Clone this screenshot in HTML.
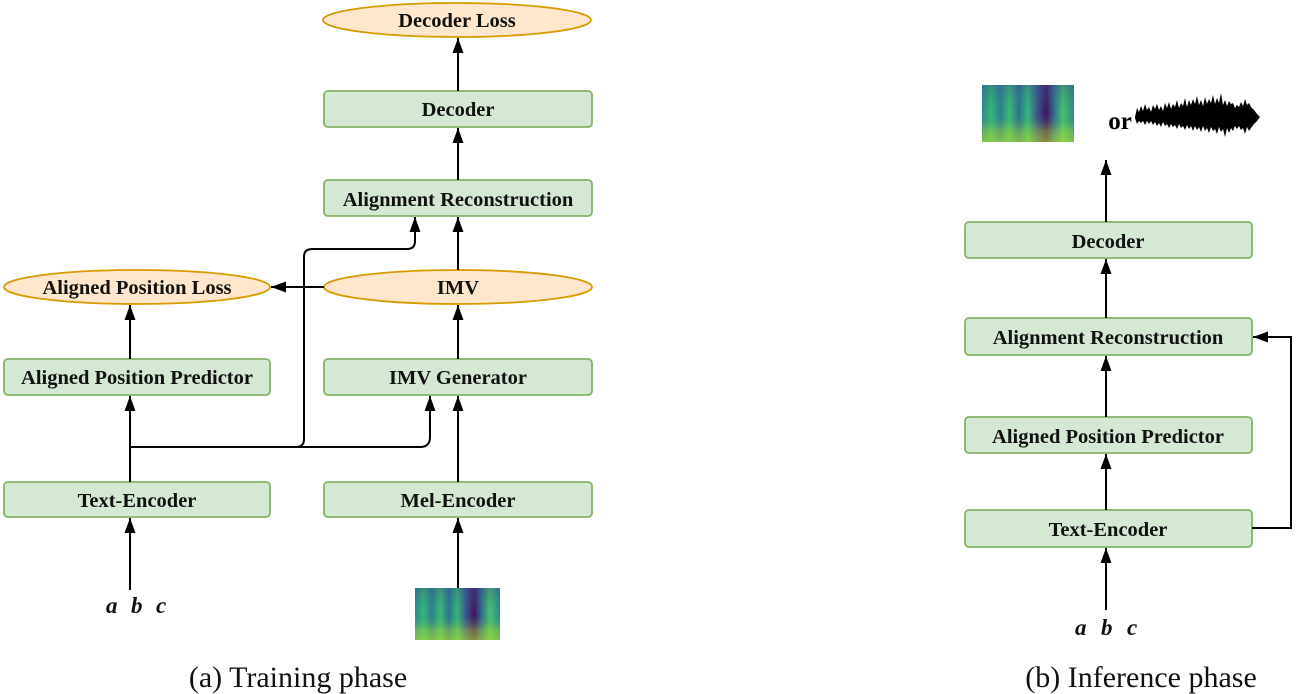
<!DOCTYPE html>
<html><head><meta charset="utf-8"><style>
html,body{margin:0;padding:0;background:#fff;}
svg{display:block;}
.b{fill:#d5e8d4;stroke:#82b366;stroke-width:1.8;}
.e{fill:#ffe6cc;stroke:#d79b00;stroke-width:1.8;}
.t{font-family:"Liberation Serif",serif;font-weight:bold;font-size:20.5px;fill:#111;text-anchor:middle;}
.l{stroke:#000;stroke-width:2;fill:none;}
.cap{font-family:"Liberation Serif",serif;font-size:30px;fill:#111;text-anchor:middle;}
.abc{font-family:"Liberation Serif",serif;font-weight:bold;font-style:italic;font-size:23px;fill:#111;}
</style></head><body>
<svg width="1311" height="694" viewBox="0 0 1311 694" xmlns="http://www.w3.org/2000/svg">
<defs>
<marker id="ar" viewBox="0 0 10 10" refX="10" refY="5" markerWidth="15" markerHeight="11" orient="auto" markerUnits="userSpaceOnUse" preserveAspectRatio="none">
<path d="M0,0 L10,5 L0,10 z" fill="#000"/></marker>
<linearGradient id="spec" x1="0" x2="1" y1="0" y2="0">
<stop offset="0" stop-color="#2a8a8a"/><stop offset="0.1" stop-color="#35b779"/><stop offset="0.2" stop-color="#2d7f8e"/>
<stop offset="0.3" stop-color="#3dbc74"/><stop offset="0.4" stop-color="#2c728e"/><stop offset="0.5" stop-color="#38b977"/>
<stop offset="0.6" stop-color="#3b528b"/><stop offset="0.7" stop-color="#440e60"/><stop offset="0.78" stop-color="#31688e"/>
<stop offset="0.88" stop-color="#4ac16d"/><stop offset="1" stop-color="#2a8a8a"/></linearGradient>
<linearGradient id="specv" x1="0" x2="0" y1="0" y2="1">
<stop offset="0" stop-color="#3b528b" stop-opacity="0.4"/><stop offset="0.5" stop-color="#21918c" stop-opacity="0"/>
<stop offset="0.8" stop-color="#b5de2b" stop-opacity="0.4"/><stop offset="1" stop-color="#b5de2b" stop-opacity="0.6"/></linearGradient>
</defs>

<!-- LEFT -->
<ellipse class="e" cx="457" cy="20" rx="134" ry="17"/><text class="t" x="457" y="27">Decoder Loss</text>
<rect class="b" x="324" y="91" width="268" height="36" rx="4"/><text class="t" x="458" y="116">Decoder</text>
<rect class="b" x="324" y="180" width="268" height="36" rx="4"/><text class="t" x="458" y="206">Alignment Reconstruction</text>
<ellipse class="e" cx="458" cy="287" rx="134" ry="17"/><text class="t" x="458" y="294">IMV</text>
<ellipse class="e" cx="137" cy="287" rx="133" ry="17"/><text class="t" x="137" y="294">Aligned Position Loss</text>
<rect class="b" x="4" y="359" width="266" height="36" rx="4"/><text class="t" x="137" y="384">Aligned Position Predictor</text>
<rect class="b" x="324" y="359" width="268" height="36" rx="4"/><text class="t" x="458" y="384">IMV Generator</text>
<rect class="b" x="4" y="482" width="266" height="35" rx="4"/><text class="t" x="137" y="507">Text-Encoder</text>
<rect class="b" x="324" y="482" width="268" height="35" rx="4"/><text class="t" x="458" y="507">Mel-Encoder</text>

<line class="l" x1="458" y1="91" x2="458" y2="38" marker-end="url(#ar)"/>
<line class="l" x1="458" y1="180" x2="458" y2="128" marker-end="url(#ar)"/>
<line class="l" x1="458" y1="270" x2="458" y2="217" marker-end="url(#ar)"/>
<line class="l" x1="458" y1="359" x2="458" y2="305" marker-end="url(#ar)"/>
<line class="l" x1="458" y1="482" x2="458" y2="396" marker-end="url(#ar)"/>
<line class="l" x1="458" y1="588" x2="458" y2="518" marker-end="url(#ar)"/>
<line class="l" x1="324" y1="287" x2="271" y2="287" marker-end="url(#ar)"/>
<line class="l" x1="130" y1="359" x2="130" y2="305" marker-end="url(#ar)"/>
<line class="l" x1="130" y1="482" x2="130" y2="396" marker-end="url(#ar)"/>
<line class="l" x1="130" y1="590" x2="130" y2="518" marker-end="url(#ar)"/>
<path class="l" d="M130,447 H420 Q430,447 430,437 V396" marker-end="url(#ar)"/>
<path class="l" d="M296,447 Q304,447 304,439 V257 Q304,249 312,249 H407 Q415,249 415,241 V217" marker-end="url(#ar)"/>
<text class="abc" x="106" y="613">a</text><text class="abc" x="131" y="613">b</text><text class="abc" x="156" y="613">c</text>
<rect x="415" y="588" width="85" height="52" fill="url(#spec)"/><rect x="415" y="588" width="85" height="52" fill="url(#specv)"/>

<!-- RIGHT -->
<rect x="982" y="85" width="92" height="57" fill="url(#spec)"/><rect x="982" y="85" width="92" height="57" fill="url(#specv)"/>
<text x="1120" y="129" style="font-family:'Liberation Serif',serif;font-weight:bold;font-size:25px" text-anchor="middle">or</text>
<path d="M1135,117 L1137,108 1139,112 1141,106 1143,111 1145,104 1147,110 1149,107 1151,112 1153,105 1155,109 1157,104 1159,110 1161,106 1163,111 1165,103 1167,108 1169,102 1171,109 1173,104 1175,107 1177,100 1179,108 1181,103 1183,106 1185,98 1187,107 1189,100 1191,105 1193,99 1195,104 1197,96 1199,105 1201,100 1203,106 1205,97 1207,104 1209,99 1211,103 1213,95 1215,104 1217,98 1219,103 1221,93 1223,105 1225,100 1227,106 1229,101 1231,104 1233,103 1235,108 1237,105 1239,107 1241,102 1243,106 1245,99 1247,105 1249,103 1251,107 1254,110 1257,114 1260,117 1257,121 1254,124 1251,128 1249,131 1247,127 1245,134 1243,128 1241,130 1239,126 1237,129 1235,126 1233,131 1231,128 1229,133 1227,128 1225,137 1223,129 1221,132 1219,127 1217,134 1215,129 1213,131 1211,127 1209,133 1207,128 1205,131 1203,126 1201,132 1199,127 1197,130 1195,126 1193,131 1191,126 1189,129 1187,125 1185,130 1183,126 1181,128 1179,124 1177,129 1175,125 1173,127 1171,124 1169,128 1167,124 1165,126 1163,122 1161,127 1159,123 1157,126 1155,122 1153,125 1151,121 1149,124 1147,121 1145,125 1143,121 1141,123 1139,121 1137,124 1135,118 Z" fill="#000"/>
<rect class="b" x="965" y="222" width="287" height="36" rx="4"/><text class="t" x="1108" y="248">Decoder</text>
<rect class="b" x="965" y="318" width="287" height="37" rx="4"/><text class="t" x="1108" y="344">Alignment Reconstruction</text>
<rect class="b" x="965" y="417" width="287" height="36" rx="4"/><text class="t" x="1108" y="443">Aligned Position Predictor</text>
<rect class="b" x="965" y="510" width="287" height="37" rx="4"/><text class="t" x="1108" y="536">Text-Encoder</text>
<line class="l" x1="1106" y1="222" x2="1106" y2="160" marker-end="url(#ar)"/>
<line class="l" x1="1106" y1="318" x2="1106" y2="259" marker-end="url(#ar)"/>
<line class="l" x1="1106" y1="417" x2="1106" y2="356" marker-end="url(#ar)"/>
<line class="l" x1="1106" y1="510" x2="1106" y2="454" marker-end="url(#ar)"/>
<line class="l" x1="1106" y1="610" x2="1106" y2="548" marker-end="url(#ar)"/>
<path class="l" d="M1252,528 H1291 V337 H1253" marker-end="url(#ar)"/>
<text class="abc" x="1075" y="635">a</text><text class="abc" x="1101" y="635">b</text><text class="abc" x="1127" y="635">c</text>

<text class="cap" x="298" y="687">(a) Training phase</text>
<text class="cap" x="1141" y="687">(b) Inference phase</text>
</svg>
</body></html>
